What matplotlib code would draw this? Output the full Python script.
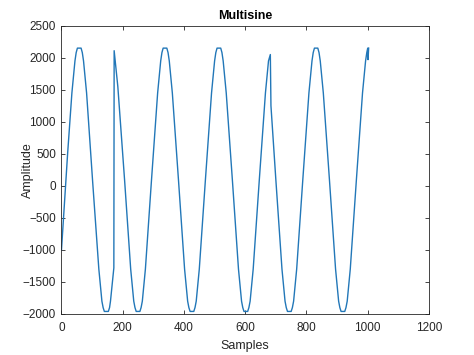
import matplotlib.pyplot as plt

# Punkter lest av bildet (sample, amplitude)
samples = [0, 20, 34, 44, 48, 52, 64, 68, 72, 82, 102, 122, 132, 136, 140, 153, 157, 160, 171,
           172, 184, 206, 226, 236, 240, 244, 256, 260, 264, 274, 294, 314, 324, 328, 332, 344,
           348, 352, 362, 382, 402, 412, 416, 420, 432, 436, 440, 450, 470, 490, 500, 504, 508, 520,
           524, 528, 538, 558, 578, 588, 592, 596, 608, 612, 616, 626, 646, 666, 676, 682,
           684, 700, 720, 730, 734, 738, 750, 754, 758, 768, 788, 808, 818, 822, 826, 837, 841, 845,
           855, 875, 895, 905, 909, 913, 925, 929, 933, 943, 963, 983, 993, 997, 1000, 1001, 1003]
amplitude = [-1000, 500, 1450, 1950, 2080, 2150, 2150, 2080, 1950, 1450, 50, -1300, -1800, -1900, -1960, -1960, -1900, -1800, -1280,
             2110, 1550, 95, -1300, -1800, -1900, -1960, -1960, -1900, -1800, -1300, 95, 1450, 1950, 2080, 2150, 2150,
             2080, 1950, 1450, 95, -1300, -1800, -1900, -1960, -1960, -1900, -1800, -1300, 95, 1450, 1950, 2080, 2150, 2150,
             2080, 1950, 1450, 95, -1300, -1800, -1900, -1960, -1960, -1900, -1800, -1300, 95, 1450, 1950, 2050,
             1250, 95, -1300, -1800, -1900, -1960, -1960, -1900, -1800, -1300, 95, 1450, 1950, 2080, 2150, 2150, 2080, 1950,
             1450, 95, -1300, -1800, -1900, -1960, -1960, -1900, -1800, -1300, 95, 1450, 1950, 2080, 2150, 1970, 2150]

xticks = [0, 200, 400, 600, 800, 1000, 1200]
yticks = [-2000, -1500, -1000, -500, 0, 500, 1000, 1500, 2000, 2500]

plt.rcParams['font.family'] = ['Liberation Sans', 'DejaVu Sans']

fig = plt.figure(figsize=(4.74, 3.55), dpi=100)
ax = fig.add_axes([0.1297, 0.1155, 0.7753, 0.8121])

ax.plot(samples, amplitude, color="#2277b8", linewidth=1.0)

ax.set_xlim(0, 1200)
ax.set_ylim(-2000, 2500)
ax.set_xticks(xticks)
ax.set_yticks(yticks)
ax.tick_params(direction="in", length=2.8, width=0.6, colors="#262626",
               labelsize=8.5, top=True, right=True, pad=4)
ax.tick_params(axis="x", pad=6)
for s in ax.spines.values():
    s.set_linewidth(0.6)
    s.set_color("#262626")

ax.set_title("Multisine", fontsize=9, fontweight="bold", pad=5)
ax.set_xlabel("Samples", fontsize=9, color="#262626", labelpad=4)
ax.set_ylabel("Amplitude", fontsize=9, color="#262626", labelpad=-8)

fig.savefig("out.png", dpi=100)
